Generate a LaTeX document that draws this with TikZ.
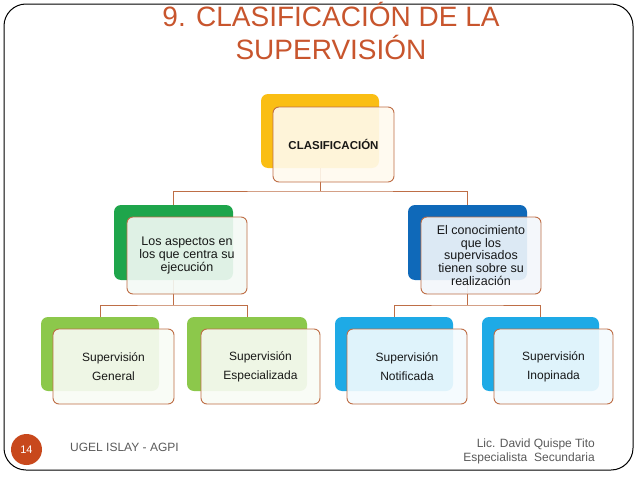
\documentclass[tikz,border=0pt]{standalone}
\usepackage{fontspec}
\setmainfont{Liberation Sans}
\definecolor{titlec}{RGB}{200,85,45}
\definecolor{linec}{RGB}{190,110,70}
\definecolor{yellowc}{RGB}{250,190,20}
\definecolor{dgreen}{RGB}{30,165,75}
\definecolor{lgreen}{RGB}{140,200,75}
\definecolor{dblue}{RGB}{15,105,185}
\definecolor{lblue}{RGB}{30,170,230}
\definecolor{circlec}{RGB}{200,72,28}
\definecolor{footc}{RGB}{90,90,90}
\tikzset{
  backbox/.style={rectangle, rounded corners=7pt, draw=none, inner sep=0pt, minimum width=118pt, minimum height=74pt},
  frontbox/.style={rectangle, rounded corners=6pt, draw=linec, line width=0.9pt, fill opacity=0.9, inner sep=0pt, minimum width=120pt, minimum height=75pt, align=center, text=black},
  lvtwo/.style={font=\fontsize{12.5}{12.7}\selectfont},
  lvthree/.style={font=\fontsize{12}{19}\selectfont},
  conn/.style={draw=linec, line width=0.9pt},
}
\begin{document}
\begin{tikzpicture}[x=1pt,y=-1pt]
\useasboundingbox (0,0) rectangle (638,479);
\fill[white] (0,0) rectangle (638,479);
\draw[line width=1pt, rounded corners=22pt] (4,4) rectangle (633,470);

% title
\node[anchor=base, text=titlec, font=\fontsize{28}{32}\selectfont, inner sep=0] (title1) at (331,27) {9. CLASIFICACIÓN DE LA};
\node[anchor=base, text=titlec, font=\fontsize{28}{32}\selectfont, inner sep=0] (title2) at (331,59) {SUPERVISIÓN};

% junctions
\coordinate (j1) at (320,191);
\coordinate (j2) at (173.5,305);
\coordinate (j3) at (467.5,305);

% back boxes
\path (320,131) node[backbox, fill=yellowc] (topB) {};
\path (173.5,242.5) node[backbox, fill=dgreen, minimum width=119pt, minimum height=75pt] (lB) {};
\path (467.5,242.5) node[backbox, fill=dblue, minimum width=119pt, minimum height=75pt] (rB) {};
\path (100,354) node[backbox, fill=lgreen] (aB) {};
\path (247,354) node[backbox, fill=lgreen, minimum width=120pt] (bB) {};
\path (394,354) node[backbox, fill=lblue] (cB) {};
\path (540.5,354) node[backbox, fill=lblue, minimum width=117pt] (dB) {};

% connectors
\draw[conn] (topB.south) -- (j1);
\draw[conn] (lB.north) |- (j1) -| (rB.north);
\draw[conn] (lB.south) -- (j2);
\draw[conn] (aB.north) |- (j2) -| (bB.north);
\draw[conn] (rB.south) -- (j3);
\draw[conn] (cB.north) |- (j3) -| (dB.north);

% front boxes
\node[frontbox, fill=yellowc!7!white, minimum width=121pt, minimum height=75pt, font=\bfseries\fontsize{11.5}{13}\selectfont] (topF) at (333.5,144.5) {CLASIFICACIÓN};
\node[frontbox, lvtwo, fill=dgreen!5!white, minimum height=77pt] (lF) at (187,255.5) {Los aspectos en\\los que centra su\\ejecución};
\node[frontbox, lvtwo, fill=dblue!5!white, minimum height=77pt] (rF) at (481,255.5) {El conocimiento\\que los\\supervisados\\tienen sobre su\\realización};
\node[frontbox, lvthree, fill=lgreen!5!white, minimum width=121pt] (aF) at (113.5,366.5) {Supervisión\\General};
\node[frontbox, lvthree, fill=lgreen!5!white, minimum width=119pt] (bF) at (260.5,366.5) {Supervisión\\Especializada};
\node[frontbox, lvthree, fill=lblue!5!white] (cF) at (407,366.5) {Supervisión\\Notificada};
\node[frontbox, lvthree, fill=lblue!5!white, minimum width=119pt] (dF) at (553.5,366.5) {Supervisión\\Inopinada};

% footer
\node[circle, fill=circlec, minimum size=31pt, inner sep=0, text=white, font=\fontsize{11}{13}\selectfont] (page) at (26.5,449.5) {14};
\node[anchor=base west, inner sep=0, text=footc, font=\fontsize{12}{14}\selectfont] (ugel) at (70,451) {UGEL ISLAY - AGPI};
\node[anchor=base east, inner sep=0, text=footc, font=\fontsize{12}{14}\selectfont] (lic1) at (595,447) {Lic. David Quispe Tito};
\node[anchor=base east, inner sep=0, text=footc, font=\fontsize{12}{14}\selectfont] (lic2) at (595,461) {Especialista\ \ Secundaria};
\end{tikzpicture}
\end{document}
